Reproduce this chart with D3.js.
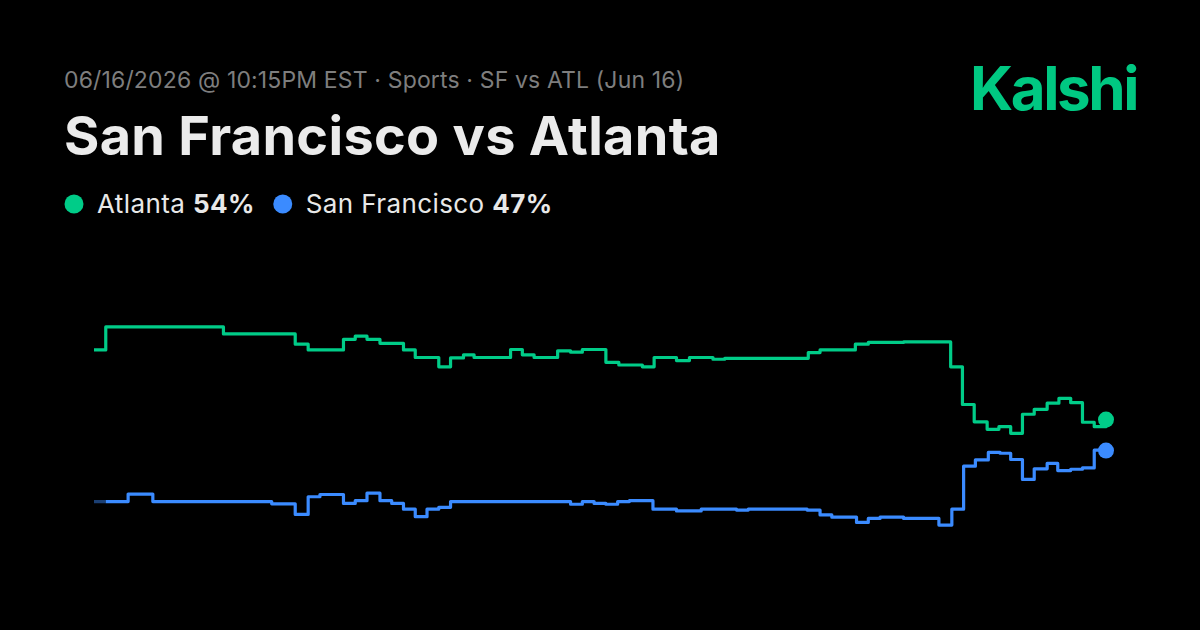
<!DOCTYPE html>
<html>
<head>
<meta charset="utf-8">
<script src="https://cdn.jsdelivr.net/npm/d3@7"></script>
<style>
body { margin: 0; background: #000; }
svg text { font-family: Inter, "Noto Sans", sans-serif; }
</style>
</head>
<body>
<script>
// price history (t = trade interval, v = chance in %)
var atlT = [0, 1, 11, 17.1, 18.2, 21.2, 22.2, 23.2, 24.3, 26.3, 27.3, 29.3, 30.3, 31.4, 32.3,
  35.4, 36.4, 37.4, 39.4, 40.5, 41.5, 43.5, 44.6, 46.6, 47.6, 49.5, 50.6, 52.6, 53.6,
  60.7, 61.7, 64.7, 65.8, 68.8, 72.8, 73.8, 74.8, 75.9, 76.9, 77.9, 78.9, 79.9, 81,
  82, 83, 84, 85, 86];
var atlV = [69.7, 74.9, 73.3, 71.0, 69.7, 72.1, 72.8, 72.1, 71.2, 69.7, 68.0, 65.9, 67.9, 68.6, 68.0,
  69.8, 68.6, 68.0, 69.5, 69.2, 69.8, 66.9, 66.3, 65.9, 68.0, 67.3, 68.0, 67.6, 67.8,
  69.1, 69.7, 71.0, 71.4, 71.5, 65.9, 57.4, 53.5, 51.8, 52.4, 50.9, 55.2, 56.3, 57.7,
  58.8, 57.8, 53.4, 52.4, 54];

var sfT = [0, 2.9, 5, 15.1, 17.1, 18.2, 19.2, 21.2, 22.2, 23.2, 24.3, 25.3, 26.3, 27.3, 28.3,
  29.3, 30.3, 40.5, 41.5, 42.5, 43.5, 44.5, 45.5, 47.5, 49.5, 51.6, 54.6, 55.6, 60.6,
  61.7, 62.7, 64.8, 65.8, 66.8, 68.8, 71.8, 72.9, 73.9, 74.9, 76, 77, 77.9, 78.9,
  79.9, 81, 81.9, 83, 84, 85, 86];
var sfV = [35.5, 37.2, 35.5, 35.0, 32.6, 36.6, 37.1, 35.1, 35.7, 37.4, 35.7, 35.1, 33.8, 32.1, 33.8,
  34.2, 35.5, 34.9, 35.5, 35.1, 34.9, 35.5, 35.7, 33.8, 33.4, 33.8, 33.6, 33.8, 33.6,
  32.5, 32.0, 30.8, 31.7, 32.0, 31.7, 30.2, 33.8, 43.5, 44.9, 46.6, 46.4, 45.0, 40.5,
  42.9, 44.1, 42.5, 42.8, 43.1, 47.1, 47];

var names = ["Atlanta", "San Francisco"];
var lastPct = ["54%", "47%"];
var colors = ["#00cc88", "#3b8bff"];

var w = 1200;
var h = 630;

var svg = d3.select("body")
  .append("svg")
  .attr("width", w)
  .attr("height", h);

svg.append("rect")
  .attr("width", w)
  .attr("height", h)
  .attr("fill", "#000");

// header
svg.append("text")
  .attr("x", 64)
  .attr("y", 88)
  .attr("fill", "#7e7e7e")
  .style("font-size", "23px")
  .style("letter-spacing", "0.15px")
  .text("06/16/2026 @ 10:15PM EST · Sports · SF vs ATL (Jun 16)");

svg.append("text")
  .attr("x", 64)
  .attr("y", 155)
  .attr("fill", "#ebebeb")
  .style("font-size", "54px")
  .style("font-weight", 700)
  .style("letter-spacing", "0.3px")
  .text("San Francisco vs Atlanta");

svg.append("text")
  .attr("x", 970)
  .attr("y", 110)
  .attr("fill", "#00c882")
  .style("font-size", "60px")
  .style("font-weight", 700)
  .style("letter-spacing", "-2.4px")
  .text("Kalshi");

// legend
var lx = 74;
names.forEach(function(n, i) {
  svg.append("circle")
    .attr("cx", lx)
    .attr("cy", 204)
    .attr("r", 9.5)
    .attr("fill", colors[i]);
  var t = svg.append("text")
    .attr("x", lx + 23)
    .attr("y", 213)
    .attr("fill", "#e8e8e8")
    .style("font-size", "26px")
    .style("letter-spacing", "0.4px");
  t.append("tspan").text(n + " ");
  t.append("tspan").style("font-weight", 700).text(lastPct[i]);
  lx = lx + 23 + t.node().getComputedTextLength() + 28;
});

// chart
var x = d3.scaleLinear().domain([0, 86]).range([94, 1106]);
var y = d3.scaleLinear().domain([30, 76]).range([526, 322]);

var line = d3.line()
  .x(function(d) { return x(d[0]); })
  .y(function(d) { return y(d[1]); })
  .curve(d3.curveStepAfter);

var series = [d3.zip(atlT, atlV), d3.zip(sfT, sfV)];

var defs = svg.append("defs");
defs.append("clipPath").attr("id", "head")
  .append("rect").attr("x", 0).attr("y", 0).attr("width", x(1)).attr("height", h);
defs.append("clipPath").attr("id", "body")
  .append("rect").attr("x", x(1)).attr("y", 0).attr("width", w).attr("height", h);

series.forEach(function(s, i) {
  svg.append("path")
    .attr("d", line(s))
    .attr("fill", "none")
    .attr("stroke", colors[i])
    .attr("stroke-width", 3.2)
    .attr("stroke-linejoin", "round")
    .attr("clip-path", i == 1 ? "url(#body)" : null);
  if (i == 1) {
    svg.append("path")
      .attr("d", line(s))
      .attr("fill", "none")
      .attr("stroke", colors[i])
      .attr("stroke-opacity", 0.45)
      .attr("stroke-width", 3.2)
      .attr("clip-path", "url(#head)");
  }
  var end = s[s.length - 1];
  svg.append("circle")
    .attr("cx", x(end[0]))
    .attr("cy", y(end[1]))
    .attr("r", 8)
    .attr("fill", colors[i]);
});
</script>
</body>
</html>
